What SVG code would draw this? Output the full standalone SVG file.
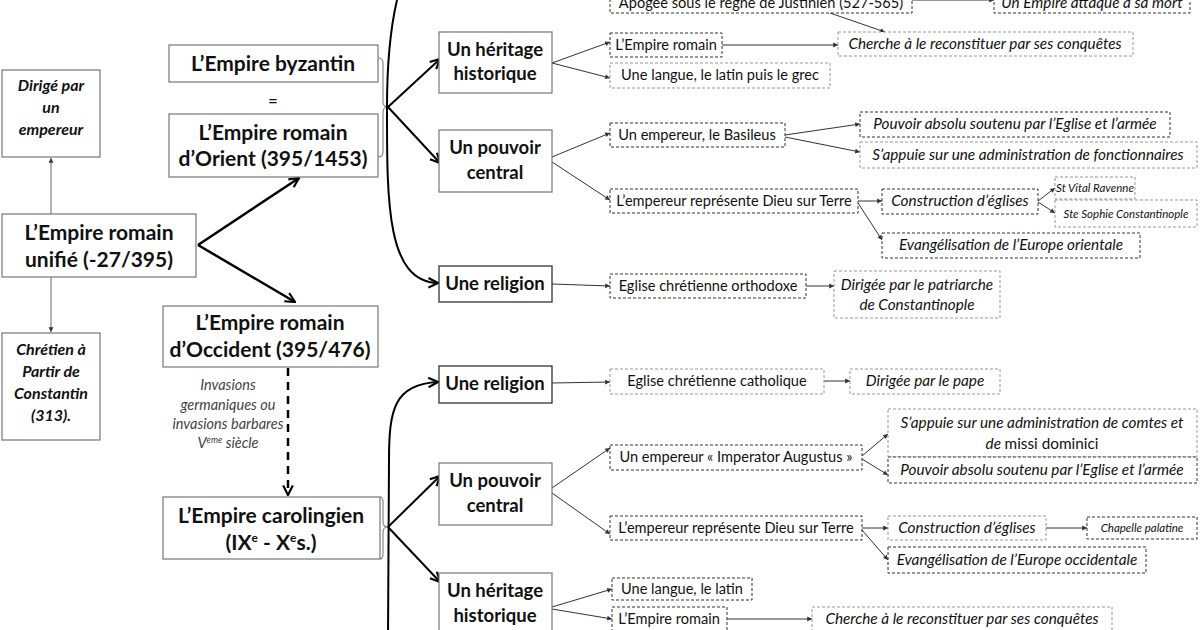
<svg xmlns="http://www.w3.org/2000/svg" width="1200" height="630" viewBox="0 0 1200 630">
<defs>
<style>
text{font-family:Lato,"Open Sans","Liberation Sans",sans-serif;fill:#111;text-anchor:middle}
.box{fill:#fff;stroke:#777;stroke-width:1.2}
.boxd{fill:#fff;stroke:#333;stroke-width:1.3}
.dash{fill:#fff;stroke:#333;stroke-width:1;stroke-dasharray:3 2}
.dashl{fill:#fff;stroke:#999;stroke-width:1;stroke-dasharray:3 2}
.big{font-size:21px;font-weight:bold}
.mid{font-size:18.5px;font-weight:bold}
.side{font-size:16px;font-weight:bold;font-style:italic}
.t{font-size:14.6px}
.i{font-size:15.3px;font-style:italic}
.s{font-size:11.5px;font-style:italic}
.inv{font-size:14.5px;font-style:italic;fill:#444}
.thin{fill:none;stroke:#333;stroke-width:1;marker-end:url(#ah)}
.grey{fill:none;stroke:#666;stroke-width:1;marker-end:url(#ah)}
.thick{fill:none;stroke:#000;stroke-width:2.5;marker-end:url(#AH)}
.med{fill:none;stroke:#000;stroke-width:2;marker-end:url(#AH)}
.curve{fill:none;stroke:#000;stroke-width:2;marker-end:url(#AH)}
.curve2{fill:none;stroke:#000;stroke-width:2}
.brace{fill:none;stroke:#888;stroke-width:1.2}
.dashed{fill:none;stroke:#000;stroke-width:2.5;stroke-dasharray:8 6;marker-end:url(#AH)}
</style>
<marker id="AH" viewBox="0 0 10 10" refX="9" refY="5" markerWidth="12" markerHeight="12" markerUnits="userSpaceOnUse" orient="auto">
<path d="M1 1 L9 5 L1 9" fill="none" stroke="#000" stroke-width="1.8"/>
</marker>
<marker id="ah" viewBox="0 0 10 10" refX="9" refY="5" markerWidth="6" markerHeight="6" markerUnits="userSpaceOnUse" orient="auto">
<path d="M1 1 L9 5 L1 9 z" fill="#333"/>
</marker>
</defs>
<rect width="1200" height="630" fill="#fff"/>

<g id="connectors">
<path class="grey" d="M51 214 L51 158"/>
<path class="grey" d="M51 277 L51 332"/>
<path class="thick" d="M198 245 L299 178"/>
<path class="thick" d="M198 245 L295 302"/>
<path class="dashed" d="M288 368 L288 495"/>
<path class="brace" d="M378 58 Q383 58 383 63 L383 102 Q383 107 388 107 Q383 107 383 112 L383 152 Q383 157 378 157"/>
<path class="brace" d="M380 497 Q383 497 383 502 L383 522 Q383 527 388 527 Q383 527 383 532 L383 554 Q383 559 380 559"/>
<path class="med" d="M388 107 L440 59"/>
<path class="med" d="M388 107 L440 163"/>
<path class="med" d="M388 527 L440 476"/>
<path class="med" d="M388 527 L440 582"/>
<path class="curve" d="M397 0 C390 30 387 70 387 107 C387 200 386 282 438 283"/>
<path class="curve" d="M389 460 C389 410 394 384 438 382"/>
<path class="curve2" d="M388 640 C388 560 389 500 389 460"/>
<path class="thin" d="M552 63 L610 42"/>
<path class="thin" d="M552 63 L610 78"/>
<path class="thin" d="M722 45 L838 45"/>
<path class="thin" d="M830 13 L885 32"/>
<path class="thin" d="M912 0 L994 0"/>
<path class="thin" d="M552 157 L610 133"/>
<path class="thin" d="M552 162 L610 200"/>
<path class="thin" d="M785 135 L860 124"/>
<path class="thin" d="M785 137 L860 152"/>
<path class="thin" d="M858 201 L882 201"/>
<path class="thin" d="M858 203 L882 240"/>
<path class="thin" d="M1038 201 L1055 188"/>
<path class="thin" d="M1038 202 L1055 213"/>
<path class="thin" d="M552 284 L610 286"/>
<path class="thin" d="M806 286 L834 286"/>
<path class="thin" d="M552 383 L610 382"/>
<path class="thin" d="M824 381 L850 381"/>
<path class="thin" d="M552 488 L610 448"/>
<path class="thin" d="M552 493 L610 534"/>
<path class="thin" d="M862 456 L888 434"/>
<path class="thin" d="M862 459 L888 475"/>
<path class="thin" d="M862 528 L888 528"/>
<path class="thin" d="M862 530 L888 560"/>
<path class="thin" d="M1046 528 L1087 528"/>
<path class="thin" d="M552 607 L612 589"/>
<path class="thin" d="M552 609 L612 619"/>
<path class="thin" d="M727 619 L812 619"/>
</g>

<g id="dirige"><rect class="box" x="2" y="70" width="98" height="87"/>
<text class="side" x="51" y="91">Dirigé par</text><text class="side" x="51" y="113">un</text><text class="side" x="51" y="135">empereur</text></g>
<g id="unifie"><rect class="box" x="2" y="214" width="194" height="63"/>
<text class="big" x="99" y="240">L’Empire romain</text><text class="big" x="99" y="267">unifié (-27/395)</text></g>
<g id="chretien"><rect class="box" x="2" y="333" width="98" height="107"/>
<text class="side" x="51" y="355">Chrétien à</text><text class="side" x="51" y="377">Partir de</text><text class="side" x="51" y="399">Constantin</text><text class="side" x="51" y="421">(313).</text></g>

<g id="byzantin"><rect class="box" x="169" y="45" width="209" height="37"/>
<text class="big" x="273" y="71">L’Empire byzantin</text></g>
<g id="egal"><text x="273" y="107" font-size="17">=</text></g>
<g id="orient"><rect class="box" x="169" y="114" width="209" height="63"/>
<text class="big" x="273" y="140">L’Empire romain</text><text class="big" x="273" y="166">d’Orient (395/1453)</text></g>
<g id="occident"><rect class="box" x="163" y="306" width="215" height="61"/>
<text class="big" x="270" y="330">L’Empire romain</text><text class="big" x="270" y="357">d’Occident (395/476)</text></g>
<g id="invasions">
<text class="inv" x="228" y="390">Invasions</text><text class="inv" x="228" y="410">germaniques ou</text><text class="inv" x="228" y="429">invasions barbares</text><text class="inv" x="228" y="448">V<tspan font-size="9" dy="-5">eme</tspan><tspan dy="5"> siècle</tspan></text></g>
<g id="carolingien"><rect class="box" x="163" y="497" width="217" height="62"/>
<text class="big" x="271" y="523">L’Empire carolingien</text><text class="big" x="271" y="550">(IX<tspan font-size="12" dy="-8">e</tspan><tspan dy="8">  - X</tspan><tspan font-size="12" dy="-8">e</tspan><tspan dy="8">s.)</tspan></text></g>

<g id="heritage-o"><rect class="box" x="439" y="32" width="113" height="61"/>
<text class="mid" x="495" y="56">Un héritage</text><text class="mid" x="495" y="80">historique</text></g>
<g id="pouvoir-o"><rect class="box" x="439" y="130" width="113" height="62"/>
<text class="mid" x="495" y="154">Un pouvoir</text><text class="mid" x="495" y="179">central</text></g>
<g id="religion-o"><rect class="boxd" x="439" y="266" width="113" height="36"/>
<text class="mid" x="495" y="290">Une religion</text></g>
<g id="religion-c"><rect class="boxd" x="439" y="366" width="113" height="37"/>
<text class="mid" x="495" y="390">Une religion</text></g>
<g id="pouvoir-c"><rect class="box" x="439" y="463" width="113" height="62"/>
<text class="mid" x="495" y="487">Un pouvoir</text><text class="mid" x="495" y="512">central</text></g>
<g id="heritage-c"><rect class="box" x="439" y="573" width="113" height="64"/>
<text class="mid" x="495" y="597">Un héritage</text><text class="mid" x="495" y="622">historique</text></g>

<g id="apogee"><rect class="dash" x="610" y="-12" width="302" height="25"/><text class="t" x="761" y="8">Apogée sous le règne de Justinien (527-565)</text></g>
<g id="attaque"><rect class="dash" x="994" y="-12" width="196" height="25"/><text class="i" x="1092" y="8">Un Empire attaqué à sa mort</text></g>
<g id="empire-o"><rect class="dash" x="610" y="33" width="112" height="24"/><text class="t" x="666" y="50">L’Empire romain</text></g>
<g id="cherche-o"><rect class="dashl" x="838" y="32" width="295" height="24"/><text class="i" x="985" y="49">Cherche à le reconstituer par ses conquêtes</text></g>
<g id="langue-o"><rect class="dashl" x="610" y="63" width="220" height="25"/><text class="t" x="720" y="80">Une langue, le latin puis le grec</text></g>
<g id="basileus"><rect class="dash" x="610" y="123" width="175" height="24"/><text class="t" x="697" y="140">Un empereur, le Basileus</text></g>
<g id="absolu-o"><rect class="dash" x="860" y="112" width="310" height="25"/><text class="i" x="1015" y="129">Pouvoir absolu soutenu par l’Eglise et l’armée</text></g>
<g id="fonction"><rect class="dashl" x="860" y="142" width="337" height="26"/><text class="i" x="1028" y="160">S’appuie sur une administration de fonctionnaires</text></g>
<g id="dieu-o"><rect class="dash" x="610" y="189" width="248" height="24"/><text class="t" x="734" y="206">L’empereur représente Dieu sur Terre</text></g>
<g id="constr-o"><rect class="dash" x="882" y="189" width="156" height="25"/><text class="i" x="960" y="206">Construction d’églises</text></g>
<g id="vital"><rect class="dashl" x="1055" y="177" width="80" height="22"/><text class="s" x="1095" y="192" font-size="10.5">St Vital Ravenne</text></g>
<g id="sophie"><rect class="dashl" x="1055" y="200" width="142" height="27"/><text class="s" x="1126" y="218">Ste Sophie Constantinople</text></g>
<g id="evang-o"><rect class="dash" x="882" y="233" width="258" height="25"/><text class="i" x="1011" y="250">Evangélisation de l’Europe orientale</text></g>
<g id="orthodoxe"><rect class="dash" x="610" y="274" width="196" height="24"/><text class="t" x="708" y="291">Eglise chrétienne orthodoxe</text></g>
<g id="patriarche"><rect class="dashl" x="834" y="271" width="166" height="47"/><text class="i" x="917" y="290">Dirigée par le patriarche</text><text class="i" x="917" y="310">de Constantinople</text></g>
<g id="catholique"><rect class="dashl" x="610" y="369" width="214" height="25"/><text class="t" x="717" y="386">Eglise chrétienne catholique</text></g>
<g id="pape"><rect class="dashl" x="850" y="369" width="150" height="25"/><text class="i" x="925" y="386">Dirigée par le pape</text></g>
<g id="imperator"><rect class="dash" x="610" y="445" width="252" height="25"/><text class="t" x="736" y="462">Un empereur « Imperator Augustus »</text></g>
<g id="comtes"><rect class="dashl" x="888" y="409" width="309" height="48"/><text class="i" x="1042" y="428">S’appuie sur une administration de comtes et</text><text class="i" x="1042" y="449">de <tspan font-style="normal">missi dominici</tspan></text></g>
<g id="absolu-c"><rect class="dash" x="888" y="457" width="309" height="26"/><text class="i" x="1042" y="475">Pouvoir absolu soutenu par l’Eglise et l’armée</text></g>
<g id="dieu-c"><rect class="dash" x="610" y="516" width="252" height="24"/><text class="t" x="736" y="533">L’empereur représente Dieu sur Terre</text></g>
<g id="constr-c"><rect class="dashl" x="888" y="516" width="158" height="24"/><text class="i" x="967" y="533">Construction d’églises</text></g>
<g id="chapelle"><rect class="dash" x="1087" y="517" width="110" height="22"/><text class="s" x="1142" y="532" font-size="12">Chapelle palatine</text></g>
<g id="evang-c"><rect class="dash" x="888" y="547" width="258" height="26"/><text class="i" x="1017" y="565">Evangélisation de l’Europe occidentale</text></g>
<g id="langue-c"><rect class="dash" x="612" y="578" width="140" height="22"/><text class="t" x="682" y="594">Une langue, le latin</text></g>
<g id="empire-c"><rect class="dash" x="612" y="607" width="115" height="25"/><text class="t" x="669" y="624">L’Empire romain</text></g>
<g id="cherche-c"><rect class="dashl" x="812" y="607" width="300" height="25"/><text class="i" x="962" y="624">Cherche à le reconstituer par ses conquêtes</text></g>
</svg>
